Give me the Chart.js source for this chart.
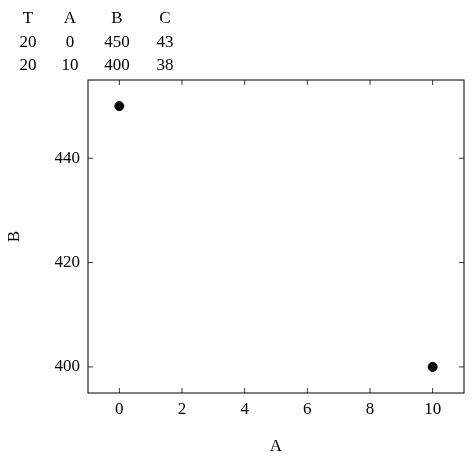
<!DOCTYPE html>
<html><head><meta charset="utf-8">
<script src="https://cdn.jsdelivr.net/npm/chart.js@4"></script>
<style>
body{margin:0;background:#fff;}
#wrap{position:relative;width:474px;height:461px;}
canvas{position:absolute;left:0;top:0;}
.c{position:absolute;font-family:"Liberation Serif",serif;font-size:17px;color:#000;transform:translateX(-50%);}
</style></head><body>
<div id="wrap"><canvas id="ch" width="474" height="461"></canvas><div id="tbl"></div></div>
<script>
const tableHeader=["T","A","B","C"];
const tableRows=[[20,0,450,43],[20,10,400,38]];
const xValues=[0,10];
const yValues=[450,400];
const xTicks=[0,2,4,6,8,10];
const yTicks=[400,420,440];

const colX=[28,70,117,165];
const tbl=document.getElementById('tbl');
[tableHeader,...tableRows].forEach((r,i)=>r.forEach((v,j)=>{
  const d=document.createElement('div');d.className='c';d.textContent=v;
  d.style.left=colX[j]+'px';d.style.top=(8+i*23.5)+'px';tbl.appendChild(d);}));

const font={family:"Liberation Serif",size:17};
const tickPlugin={id:'tk',afterDatasetsDraw(c){
  const ctx=c.ctx,a=c.chartArea,x=c.scales.x,y=c.scales.y;
  ctx.save();ctx.strokeStyle='#000';ctx.lineWidth=0.8;ctx.beginPath();
  xTicks.forEach(v=>{const p=x.getPixelForValue(v);ctx.moveTo(p,a.bottom);ctx.lineTo(p,a.bottom-5);ctx.moveTo(p,a.top);ctx.lineTo(p,a.top+5);});
  yTicks.forEach(v=>{const p=y.getPixelForValue(v);ctx.moveTo(a.left,p);ctx.lineTo(a.left+5,p);ctx.moveTo(a.right,p);ctx.lineTo(a.right-5,p);});
  ctx.stroke();ctx.lineWidth=1;ctx.strokeRect(a.left,a.top,a.right-a.left,a.bottom-a.top);ctx.restore();}};

new Chart(document.getElementById('ch'),{type:'scatter',
 data:{datasets:[{data:xValues.map((x,i)=>({x,y:yValues[i]})),backgroundColor:'#000',borderColor:'#000',pointRadius:4.5}]},
 options:{responsive:false,animation:false,
  layout:{padding:{top:80,right:10,left:0,bottom:0}},
  plugins:{legend:{display:false},tooltip:{enabled:false}},
  scales:{
   x:{type:'linear',min:-1,max:11,afterBuildTicks:s=>{s.ticks=xTicks.map(v=>({value:v}));},
      afterFit:s=>{s.height=68;},
      grid:{display:false,drawTicks:false},border:{display:false},
      ticks:{font,color:'#000',padding:6},
      title:{display:true,text:'A',font,color:'#000',padding:{top:8}}},
   y:{type:'linear',min:395,max:455,afterBuildTicks:s=>{s.ticks=yTicks.map(v=>({value:v}));},
      afterFit:s=>{s.width=88;},
      grid:{display:false,drawTicks:false},border:{display:false},
      ticks:{font,color:'#000',padding:8},
      title:{display:true,text:'B',font,color:'#000',padding:{bottom:14}}}
  }},plugins:[tickPlugin]});
</script></body></html>
